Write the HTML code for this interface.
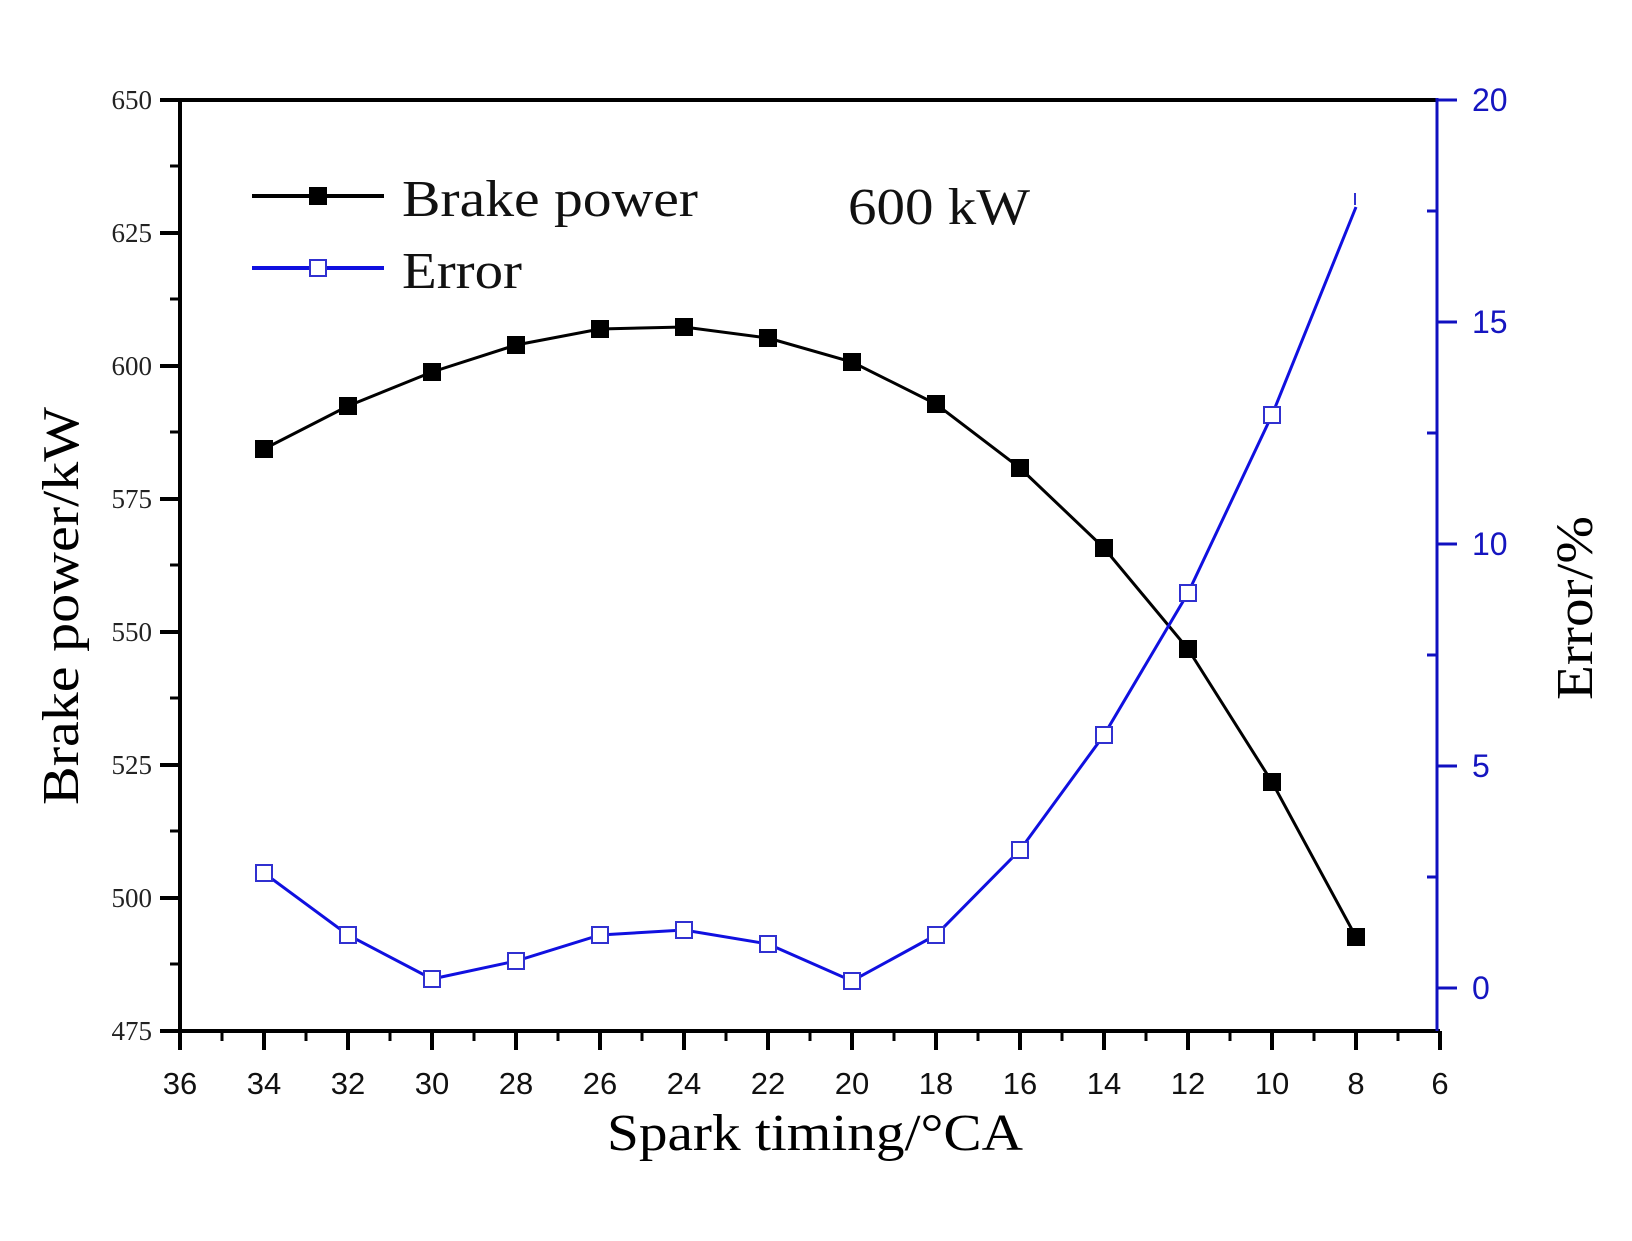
<!DOCTYPE html>
<html><head><style>body{margin:0;background:#fff}</style></head><body>
<svg width="1632" height="1236" xmlns="http://www.w3.org/2000/svg">
<rect width="1632" height="1236" fill="#fff"/>
<g id="axes" stroke="#000" stroke-width="4" fill="none">
<line x1="178" y1="100" x2="1437" y2="100"/>
<line x1="180" y1="98" x2="180" y2="1032"/>
<line x1="178" y1="1031" x2="1440" y2="1031"/>
</g>
<line x1="1437" y1="98" x2="1437" y2="1031" stroke="#1010c0" stroke-width="3"/>
<g stroke="#000" stroke-width="4">
<line x1="160" y1="100" x2="180" y2="100"/><line x1="160" y1="233" x2="180" y2="233"/><line x1="160" y1="366" x2="180" y2="366"/><line x1="160" y1="499" x2="180" y2="499"/><line x1="160" y1="632" x2="180" y2="632"/><line x1="160" y1="765" x2="180" y2="765"/><line x1="160" y1="898" x2="180" y2="898"/><line x1="160" y1="1031" x2="180" y2="1031"/>
</g>
<g stroke="#000" stroke-width="3">
<line x1="170" y1="166" x2="180" y2="166"/><line x1="170" y1="299" x2="180" y2="299"/><line x1="170" y1="432" x2="180" y2="432"/><line x1="170" y1="565" x2="180" y2="565"/><line x1="170" y1="698" x2="180" y2="698"/><line x1="170" y1="831" x2="180" y2="831"/><line x1="170" y1="964" x2="180" y2="964"/>
</g>
<g stroke="#000" stroke-width="4" id="xt">
<line x1="180" y1="1031" x2="180" y2="1050"/><line x1="264" y1="1031" x2="264" y2="1050"/><line x1="348" y1="1031" x2="348" y2="1050"/><line x1="432" y1="1031" x2="432" y2="1050"/><line x1="516" y1="1031" x2="516" y2="1050"/><line x1="600" y1="1031" x2="600" y2="1050"/><line x1="684" y1="1031" x2="684" y2="1050"/><line x1="768" y1="1031" x2="768" y2="1050"/><line x1="852" y1="1031" x2="852" y2="1050"/><line x1="936" y1="1031" x2="936" y2="1050"/><line x1="1020" y1="1031" x2="1020" y2="1050"/><line x1="1104" y1="1031" x2="1104" y2="1050"/><line x1="1188" y1="1031" x2="1188" y2="1050"/><line x1="1272" y1="1031" x2="1272" y2="1050"/><line x1="1356" y1="1031" x2="1356" y2="1050"/><line x1="1440" y1="1031" x2="1440" y2="1050"/>
</g>
<g stroke="#000" stroke-width="3">
<line x1="222" y1="1031" x2="222" y2="1041"/><line x1="306" y1="1031" x2="306" y2="1041"/><line x1="390" y1="1031" x2="390" y2="1041"/><line x1="474" y1="1031" x2="474" y2="1041"/><line x1="558" y1="1031" x2="558" y2="1041"/><line x1="642" y1="1031" x2="642" y2="1041"/><line x1="726" y1="1031" x2="726" y2="1041"/><line x1="810" y1="1031" x2="810" y2="1041"/><line x1="894" y1="1031" x2="894" y2="1041"/><line x1="978" y1="1031" x2="978" y2="1041"/><line x1="1062" y1="1031" x2="1062" y2="1041"/><line x1="1146" y1="1031" x2="1146" y2="1041"/><line x1="1230" y1="1031" x2="1230" y2="1041"/><line x1="1314" y1="1031" x2="1314" y2="1041"/><line x1="1398" y1="1031" x2="1398" y2="1041"/>
</g>
<g stroke="#1010c0" stroke-width="3">
<line x1="1437" y1="100" x2="1457" y2="100"/><line x1="1437" y1="322" x2="1457" y2="322"/><line x1="1437" y1="544" x2="1457" y2="544"/><line x1="1437" y1="766" x2="1457" y2="766"/><line x1="1437" y1="988" x2="1457" y2="988"/>
<line x1="1427" y1="211" x2="1437" y2="211"/><line x1="1427" y1="433" x2="1437" y2="433"/><line x1="1427" y1="655" x2="1437" y2="655"/><line x1="1427" y1="877" x2="1437" y2="877"/>
</g>
<g font-family="Liberation Serif, serif" font-size="27" text-anchor="end" fill="#222">
<text x="152" y="109">650</text><text x="152" y="242">625</text><text x="152" y="375">600</text><text x="152" y="508">575</text><text x="152" y="641">550</text><text x="152" y="774">525</text><text x="152" y="907">500</text><text x="152" y="1040">475</text>
</g>
<g font-family="Liberation Sans, sans-serif" font-size="31" text-anchor="middle" fill="#111">
<text x="180" y="1094">36</text><text x="264" y="1094">34</text><text x="348" y="1094">32</text><text x="432" y="1094">30</text><text x="516" y="1094">28</text><text x="600" y="1094">26</text><text x="684" y="1094">24</text><text x="768" y="1094">22</text><text x="852" y="1094">20</text><text x="936" y="1094">18</text><text x="1020" y="1094">16</text><text x="1104" y="1094">14</text><text x="1188" y="1094">12</text><text x="1272" y="1094">10</text><text x="1356" y="1094">8</text><text x="1440" y="1094">6</text>
</g>
<g font-family="Liberation Sans, sans-serif" font-size="32" fill="#1515c0">
<text x="1472" y="111">20</text><text x="1472" y="333">15</text><text x="1472" y="555">10</text><text x="1472" y="777">5</text><text x="1472" y="999">0</text>
</g>
<text x="607" y="1150" font-family="Liberation Serif, serif" font-size="52" textLength="416" lengthAdjust="spacingAndGlyphs">Spark timing/°CA</text>
<text transform="translate(78,805) rotate(-90)" font-family="Liberation Serif, serif" font-size="52" textLength="398" lengthAdjust="spacingAndGlyphs">Brake power/kW</text>
<text transform="translate(1592,700) rotate(-90)" font-family="Liberation Serif, serif" font-size="52" textLength="184" lengthAdjust="spacingAndGlyphs">Error/%</text>
<line x1="252" y1="196" x2="384" y2="196" stroke="#000" stroke-width="4"/>
<rect x="309" y="187" width="18" height="18" fill="#000"/>
<line x1="252" y1="268" x2="384" y2="268" stroke="#1010e0" stroke-width="4"/>
<rect x="310" y="260" width="16" height="16" fill="#fff" stroke="#3030d0" stroke-width="2"/>
<g font-family="Liberation Serif, serif" font-size="52" fill="#111">
<text x="402" y="216" textLength="296" lengthAdjust="spacingAndGlyphs">Brake power</text><text x="402" y="288" textLength="120" lengthAdjust="spacingAndGlyphs">Error</text><text x="848" y="224" textLength="182" lengthAdjust="spacingAndGlyphs">600 kW</text>
</g>
<polyline fill="none" stroke="#000" stroke-width="3" points="264,449 348,406 432,372 516,345 600,329 684,327 768,338 852,362 936,404 1020,468 1104,548 1188,649 1272,782 1356,937"/>
<g fill="#000">
<rect x="255" y="440" width="18" height="18"/><rect x="339" y="397" width="18" height="18"/><rect x="423" y="363" width="18" height="18"/><rect x="507" y="336" width="18" height="18"/><rect x="591" y="320" width="18" height="18"/><rect x="675" y="318" width="18" height="18"/><rect x="759" y="329" width="18" height="18"/><rect x="843" y="353" width="18" height="18"/><rect x="927" y="395" width="18" height="18"/><rect x="1011" y="459" width="18" height="18"/><rect x="1095" y="539" width="18" height="18"/><rect x="1179" y="640" width="18" height="18"/><rect x="1263" y="773" width="18" height="18"/><rect x="1347" y="928" width="18" height="18"/>
</g>
<polyline fill="none" stroke="#1010e0" stroke-width="3" points="264,873 348,935 432,979 516,961 600,935 684,930 768,944 852,981 936,935 1020,850 1104,735 1188,593 1272,415 1356,207"/>
<g fill="#fff" stroke="#3030d0" stroke-width="2">
<rect x="256" y="865" width="16" height="16"/><rect x="340" y="927" width="16" height="16"/><rect x="424" y="971" width="16" height="16"/><rect x="508" y="953" width="16" height="16"/><rect x="592" y="927" width="16" height="16"/><rect x="676" y="922" width="16" height="16"/><rect x="760" y="936" width="16" height="16"/><rect x="844" y="973" width="16" height="16"/><rect x="928" y="927" width="16" height="16"/><rect x="1012" y="842" width="16" height="16"/><rect x="1096" y="727" width="16" height="16"/><rect x="1180" y="585" width="16" height="16"/><rect x="1264" y="407" width="16" height="16"/>
</g>
<line x1="1355" y1="193" x2="1355" y2="205" stroke="#3030d0" stroke-width="2"/>
</svg>
</body></html>
